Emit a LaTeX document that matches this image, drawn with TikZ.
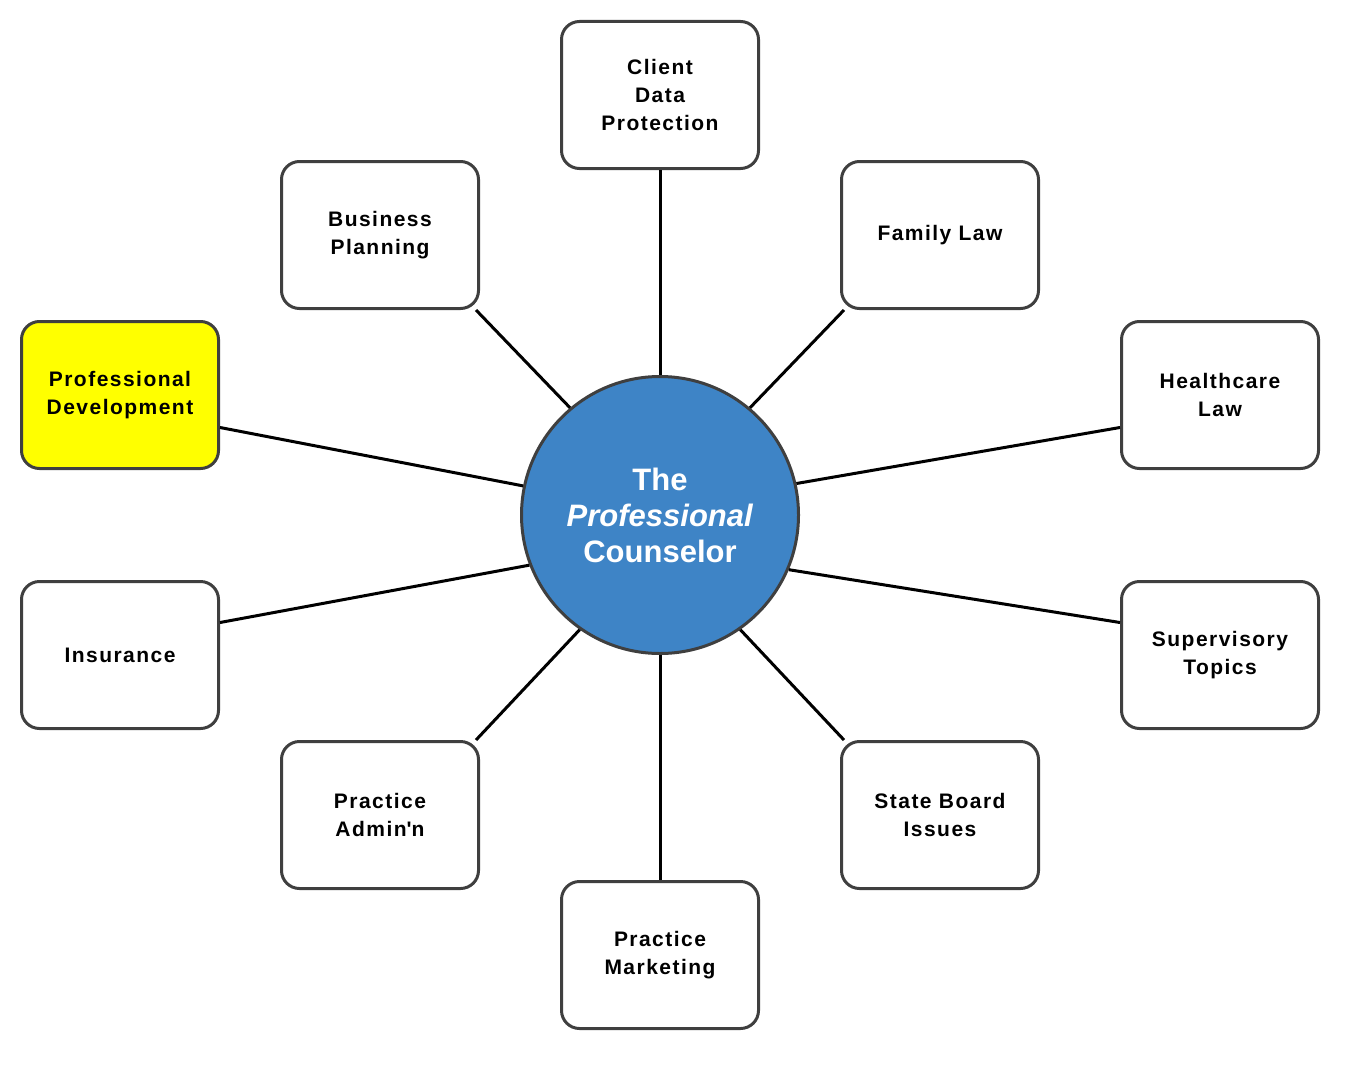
\documentclass[tikz,border=0pt]{standalone}
\usepackage{fontspec}
\setmainfont{Liberation Sans}
\newfontfamily\topicfont[LetterSpace=7]{Liberation Sans}
\definecolor{edgegray}{HTML}{3F3F3F}
\definecolor{counselorblue}{HTML}{3E84C6}
\definecolor{markyellow}{RGB}{255,255,0}

\begin{document}
\begin{tikzpicture}[x=1pt,y=-1pt,
        topic/.style={draw=edgegray, line width=3pt, rounded corners=18pt, fill=white,
            minimum width=197pt, minimum height=147pt, align=center,
            font=\topicfont\bfseries\fontsize{21}{28}\selectfont},
        hub/.style={circle, draw=edgegray, line width=3pt, fill=counselorblue, text=white,
            minimum size=277pt, align=center, inner sep=0pt,
            font=\bfseries\fontsize{31}{36}\selectfont},
        spoke/.style={line width=3pt, black}]
        \useasboundingbox (0,0) rectangle (1372,1070);

        % centre
        \node[hub] (pc) at (660,515) {The\\\textit{Professional}\\Counselor};

        % topics round the centre
        \node[topic] (cdp) at (660,95) {Client\\Data\\Protection};
        \node[topic] (bp) at (380,235) {Business\\Planning};
        \node[topic] (fl) at (940,235) {Family Law};
        \node[topic, fill=markyellow] (pd) at (120,395) {Professional\\Development};
        \node[topic] (hl) at (1220,395) {Healthcare\\Law};
        \node[topic] (ins) at (120,655) {Insurance};
        \node[topic] (sup) at (1220,655) {Supervisory\\Topics};
        \node[topic] (pa) at (380,815) {Practice\\Admin\textquotesingle n};
        \node[topic] (sb) at (940,815) {State Board\\Issues};
        \node[topic] (pm) at (660,955) {Practice\\Marketing};

        % spokes
        \draw[spoke] (pc.north) -- (cdp.south);
        \draw[spoke] (pc.130) -- (bp.-38);
        \draw[spoke] (pc.50) -- (fl.-142);
        \draw[spoke] (pc.168) -- (pd.-18);
        \draw[spoke] (pc.13) -- (hl.198);
        \draw[spoke] (pc.201) -- (ins.18);
        \draw[spoke] (pc.-23) -- (sup.162);
        \draw[spoke] (pc.-125) -- (pa.38);
        \draw[spoke] (pc.-55) -- (sb.142);
        \draw[spoke] (pc.south) -- (pm.north);
    \end{tikzpicture}
\end{document}
